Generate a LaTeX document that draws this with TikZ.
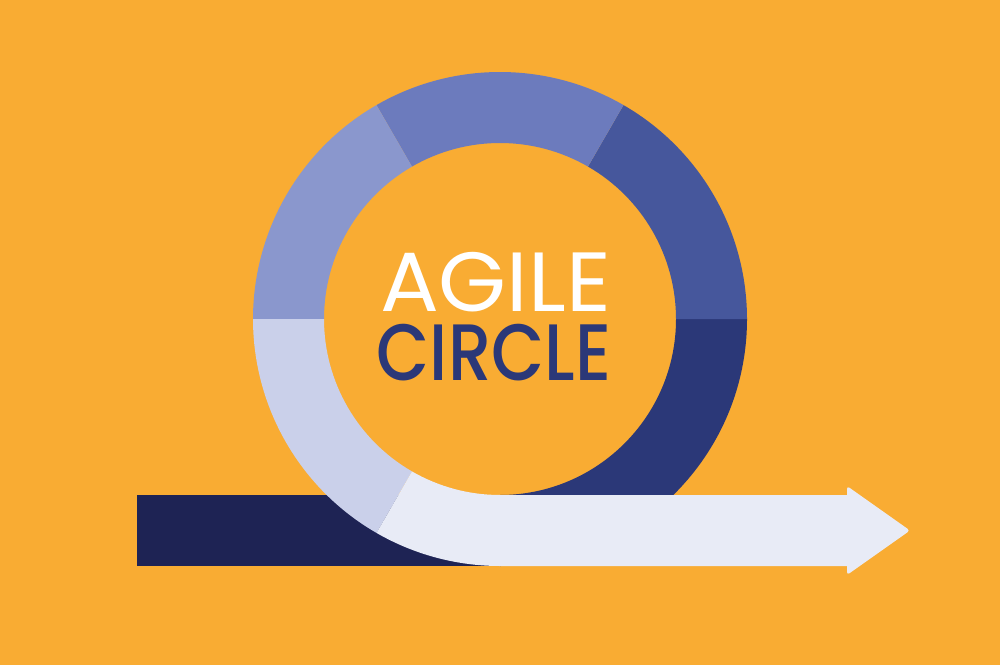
\documentclass[tikz,border=0pt]{standalone}
\usepackage{fontspec}
\newfontfamily\agilefont{Poppins}
\newfontfamily\circlefont{Poppins Medium}
\definecolor{bgorange}{HTML}{F9AC33}
\definecolor{segA}{HTML}{2B3878}
\definecolor{segB}{HTML}{46579C}
\definecolor{segC}{HTML}{6C7BBD}
\definecolor{segD}{HTML}{8A97CD}
\definecolor{segE}{HTML}{CAD0EA}
\definecolor{segF}{HTML}{E8EBF6}
\definecolor{navybar}{HTML}{1E2354}
\definecolor{circletext}{HTML}{2B3878}
\tikzset{
  titletext/.style={anchor=base, inner sep=0pt, text height=56pt, text depth=0pt, transform shape},
}
\newcommand{\annsector}[3]{% color, start, end
  \fill[#1] ($(C)+(#2:247)$) arc[start angle=#2, end angle=#3, radius=247]
    -- ($(C)+(#3:176)$) arc[start angle=#3, end angle=#2, radius=176] -- cycle;}
\usetikzlibrary{calc}
\begin{document}
\begin{tikzpicture}[x=1pt,y=1pt]
\fill[bgorange] (0,0) rectangle (1000,665);
\useasboundingbox (0,0) rectangle (1000,665);
\coordinate (C) at (500,346);
% navy bar behind the ring
\fill[navybar] (137,99) rectangle (500,170);
% ring segments
\annsector{segA}{-90}{0}
\annsector{segB}{0}{60}
\annsector{segC}{60}{120}
\annsector{segD}{120}{180}
\annsector{segE}{180}{240}
% pale part of ring turning into the arrow
\fill[segF] ($(C)+(240:247)$) arc[start angle=240, end angle=270, radius=247]
  -- (850,99) -- (850,170) -- (500,170)
  arc[start angle=270, end angle=240, radius=176] -- cycle;
\fill[segF, rounded corners=3pt] (847,90) -- (910,134.5) -- (847,179) -- cycle;
% title
\node[titletext, xscale=1.04, font=\agilefont\fontsize{84}{84}\selectfont, text=white] (agile) at (495.5,353.3) {AGILE};
\node[titletext, xscale=0.86, font=\circlefont\fontsize{80}{80}\selectfont, text=circletext] (circle) at (494,285) {CIRCLE};
\end{tikzpicture}
\end{document}
